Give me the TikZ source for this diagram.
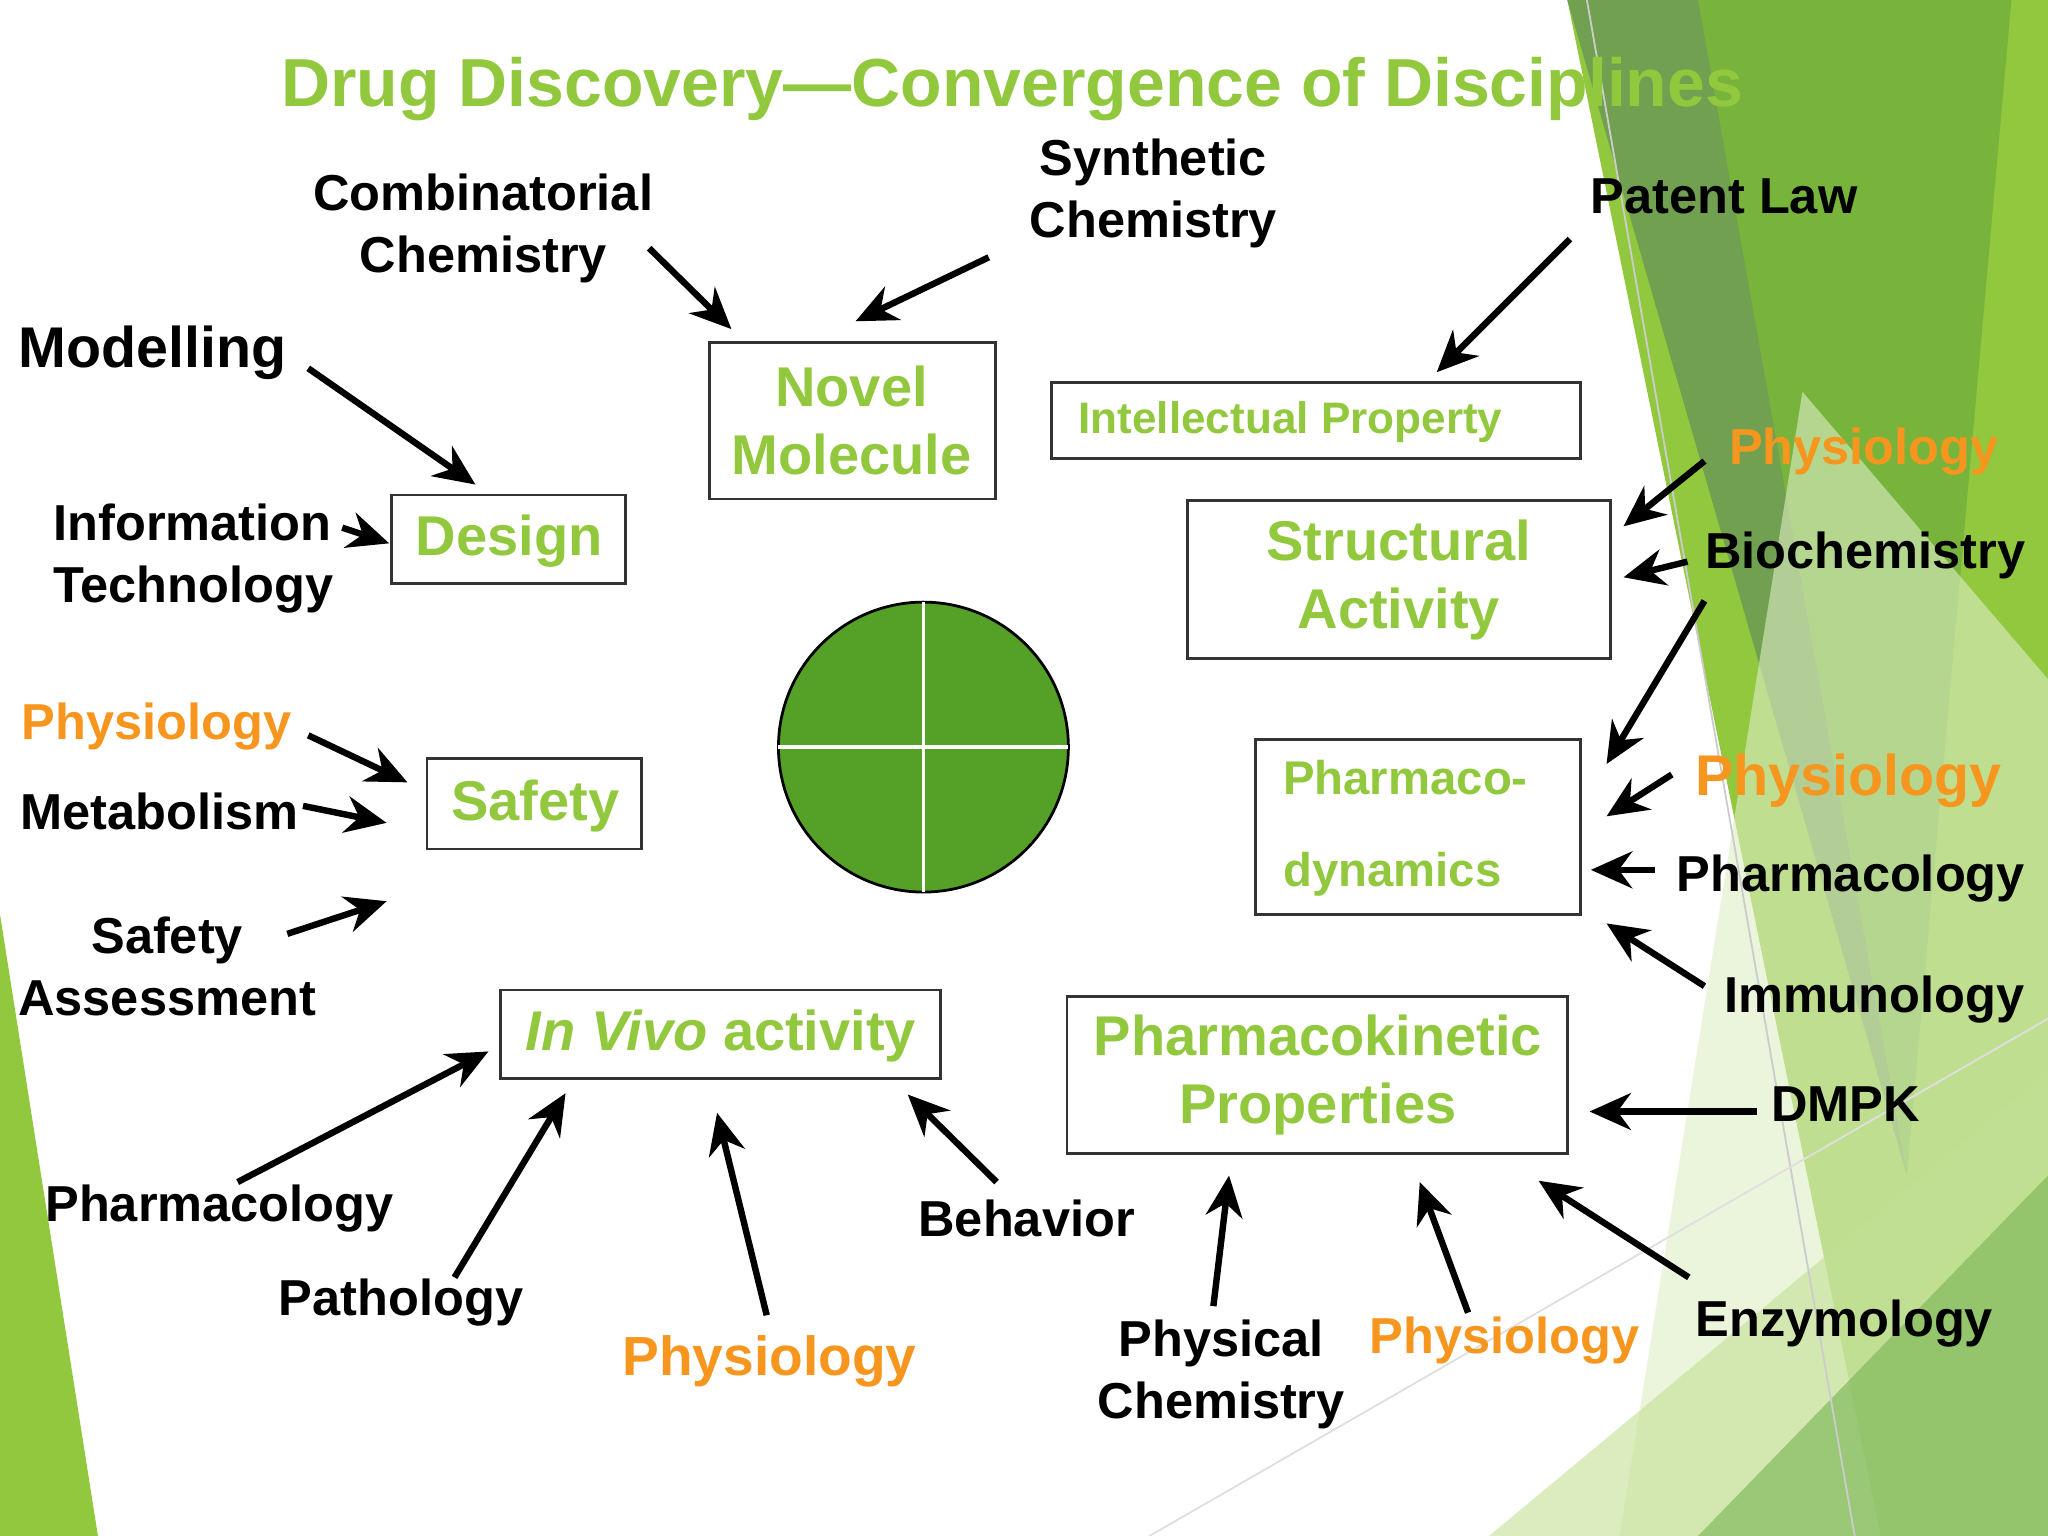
\documentclass[tikz,border=0pt]{standalone}
\usepackage{fontspec}
\setmainfont{Liberation Sans}
\usetikzlibrary{arrows.meta}
\definecolor{tg}{RGB}{146,200,62}
\definecolor{og}{RGB}{247,150,30}
\definecolor{cg}{RGB}{85,160,38}
\definecolor{band}{RGB}{112,160,80}
\definecolor{mid}{RGB}{120,180,60}
\begin{document}
\begin{tikzpicture}[x=0.01cm,y=-0.01cm,
 box/.style={draw=black!80,line width=0.6pt},
 bt/.style={text=tg,font=\bfseries\fontsize{12.2}{14.8}\selectfont,align=center},
 lb/.style={font=\bfseries\fontsize{11}{13.5}\selectfont,align=center},
 ob/.style={lb,text=og},
 ar/.style={-{Stealth[length=9pt,width=8pt]},line width=1.4pt}]
\useasboundingbox (0,0) rectangle (1568,1176);
% background
\fill[tg] (1200,0)--(1568,0)--(1568,1176)--(1440,1176)--cycle;
\fill[mid] (1270,0)--(1540,0)--(1460,900)--cycle;
\fill[band] (1200,0)--(1300,0)--(1460,900)--cycle;
\fill[tg!30,opacity=0.6] (1380,300)--(1568,520)--(1568,1176)--(1240,1176)--cycle;
\fill[tg!55,opacity=0.6] (1140,1176)--(1568,820)--(1568,1176)--cycle;
\fill[cg!80,opacity=0.6] (1300,1176)--(1568,900)--(1568,1176)--cycle;
\fill[tg] (0,700)--(75,1176)--(0,1176)--cycle;
\draw[gray!40] (1215,0)--(1420,1176);
\draw[gray!25] (880,1176)--(1568,780);
% title
\node[text=tg,font=\bfseries\fontsize{14.8}{18}\selectfont] (title) at (775,68) {Drug Discovery—Convergence of Disciplines};
% boxes
\draw[box] (543,262) rectangle (762,382); \node[bt] (nm) at (652,322) {Novel\\Molecule};
\draw[box] (805,293) rectangle (1210,351); \node[bt,font=\bfseries\fontsize{9.6}{12}\selectfont] (ip) at (988,323) {Intellectual Property};
\draw[box] (300,379) rectangle (479,447); \node[bt] (de) at (390,414) {Design};
\draw[box] (909,383) rectangle (1233,504); \node[bt] (sa) at (1071,444) {Structural\\Activity};
\draw[box] (327,581) rectangle (491,650); \node[bt] (sf) at (410,617) {Safety};
\draw[box] (961,566) rectangle (1210,700);
\node[bt,font=\bfseries\fontsize{10.3}{20}\selectfont,align=left,anchor=west] (pd) at (970,634) {Pharmaco-\\dynamics};
\draw[box] (383,758) rectangle (720,826); \node[bt] (iv) at (552,793) {\textit{In Vivo} activity};
\draw[box] (817,763) rectangle (1200,883); \node[bt] (pk) at (1009,823) {Pharmacokinetic\\Properties};
% circle
\fill[cg,draw=black,line width=0.6pt] (707,572) circle (111);
\draw[white,line width=0.8pt] (707,461)--(707,683) (596,572)--(818,572);
% labels
\node[lb] (cc) at (370,175) {Combinatorial\\Chemistry};
\node[lb] (sc) at (883,148) {Synthetic\\Chemistry};
\node[lb] (pl) at (1320,150) {Patent Law};
\node[lb,font=\bfseries\fontsize{12.5}{14}\selectfont] (mo) at (117,270) {Modelling};
\node[lb,align=left] (it) at (148,428) {Information\\Technology};
\node[ob] (p1) at (1427,346) {Physiology};
\node[lb] (bc) at (1428,425) {Biochemistry};
\node[ob,font=\bfseries\fontsize{12.5}{14}\selectfont] (p2) at (1415,598) {Physiology};
\node[lb] (ph1) at (1417,673) {Pharmacology};
\node[lb] (im) at (1435,765) {Immunology};
\node[lb] (dm) at (1413,845) {DMPK};
\node[ob] (p3) at (120,556) {Physiology};
\node[lb] (me) at (122,621) {Metabolism};
\node[lb] (sas) at (128,740) {Safety\\Assessment};
\node[lb] (ph2) at (168,925) {Pharmacology};
\node[lb] (pa) at (307,997) {Pathology};
\node[ob,font=\bfseries\fontsize{12}{14}\selectfont] (p4) at (589,1042) {Physiology};
\node[lb] (be) at (786,933) {Behavior};
\node[lb] (pc) at (935,1052) {Physical\\Chemistry};
\node[ob] (p5) at (1152,1026) {Physiology};
\node[lb] (en) at (1412,1013) {Enzymology};
% arrows
\draw[ar] (497,190)--(560,252);
\draw[ar] (757,197)--(655,246);
\draw[ar] (1202,183)--(1100,285);
\draw[ar] (236,282)--(364,371);
\draw[ar] (262,404)--(298,416);
\draw[ar] (1305,353)--(1243,403);
\draw[ar] (1292,430)--(1243,442);
\draw[ar] (1305,460)--(1230,585);
\draw[ar] (1280,593)--(1230,625);
\draw[ar] (1267,666)--(1218,666);
\draw[ar] (1305,755)--(1230,707);
\draw[ar] (1345,851)--(1217,851);
\draw[ar] (236,563)--(312,599);
\draw[ar] (232,617)--(296,630);
\draw[ar] (220,715)--(296,690);
\draw[ar] (182,905)--(374,805);
\draw[ar] (348,978)--(433,837);
\draw[ar] (587,1007)--(549,852);
\draw[ar] (763,905)--(695,838);
\draw[ar] (929,1000)--(941,900);
\draw[ar] (1124,1005)--(1087,905);
\draw[ar] (1293,978)--(1178,904);
\end{tikzpicture}
\end{document}
